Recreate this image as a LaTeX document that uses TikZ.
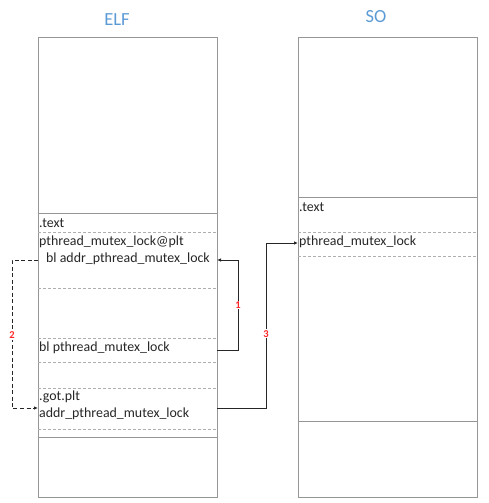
\documentclass[tikz,border=0pt]{standalone}
\usepackage{fontspec}
\setmainfont{Carlito}
\usetikzlibrary{arrows.meta}
\definecolor{titleblue}{RGB}{91,155,213}
\definecolor{boxgray}{RGB}{150,150,150}
\definecolor{dashgray}{RGB}{175,175,175}
\definecolor{numred}{RGB}{255,40,40}
\begin{document}
\begin{tikzpicture}[x=1pt,y=-1pt,
  boxline/.style={draw=boxgray,line width=0.9pt},
  sepline/.style={draw=boxgray,line width=0.9pt},
  dashline/.style={draw=dashgray,line width=0.8pt,dash pattern=on 3pt off 2pt},
  lbl/.style={anchor=west,inner sep=0pt,font=\fontsize{13.9}{15}\selectfont,text=black!85},
  ttl/.style={font=\fontsize{18.5}{20}\selectfont,text=titleblue,inner sep=0pt},
  conn/.style={draw=black!85,line width=0.8pt,-{Latex[length=4pt,width=3.5pt]}},
  num/.style={font=\bfseries\fontsize{10.5}{12}\selectfont,text=numred,fill=white,inner sep=0.8pt}]
\useasboundingbox (0,0) rectangle (488,503);
% titles
\node[ttl] (elft) at (117,20) {ELF};
\node[ttl] (sot) at (376,17) {SO};
% ELF box
\draw[boxline] (38,37) rectangle (217,497);
\draw[sepline] (38,213) -- (217,213);
\draw[sepline] (38,437) -- (217,437);
\foreach \yy in {232,288,338,362,388,429}{\draw[dashline] (38,\yy) -- (217,\yy);}
% SO box
\draw[boxline] (298,37) rectangle (477,497);
\draw[sepline] (298,197) -- (477,197);
\draw[sepline] (298,421) -- (477,421);
\foreach \yy in {232,256}{\draw[dashline] (298,\yy) -- (477,\yy);}
% ELF labels
\node[lbl] (etext) at (39,223) {.text};
\node[lbl] (plt) at (39,242) {pthread\_mutex\_lock@plt};
\node[lbl] (bladdr) at (46,258.5) {bl addr\_pthread\_mutex\_lock};
\node[lbl] (blpm) at (39,347.5) {bl pthread\_mutex\_lock};
\node[lbl] (got) at (39,397) {.got.plt};
\node[lbl] (addr) at (39,413.5) {addr\_pthread\_mutex\_lock};
% SO labels
\node[lbl] (stext) at (299,207) {.text};
\node[lbl] (spm) at (299,242) {pthread\_mutex\_lock};
% connector coordinates
\coordinate (r1s) at (217,350);
\coordinate (r1e) at (217,260);
\coordinate (l2s) at (38,260);
\coordinate (l2e) at (38,408);
\coordinate (r3s) at (217,408);
\coordinate (so3) at (298,243);
% arrow 1
\draw[conn] (r1s) -- (238,350) -- node[num,pos=0.5]{1} (238,260) -- (r1e);
% arrow 2
\draw[conn,dash pattern=on 4pt off 2.5pt] (l2s) -- (12,260) -- node[num,pos=0.51]{2} (12,408) -- (l2e);
% arrow 3
\draw[conn] (r3s) -- (266,408) -- node[num,pos=0.45]{3} (266,243) -- (so3);
\end{tikzpicture}
\end{document}
